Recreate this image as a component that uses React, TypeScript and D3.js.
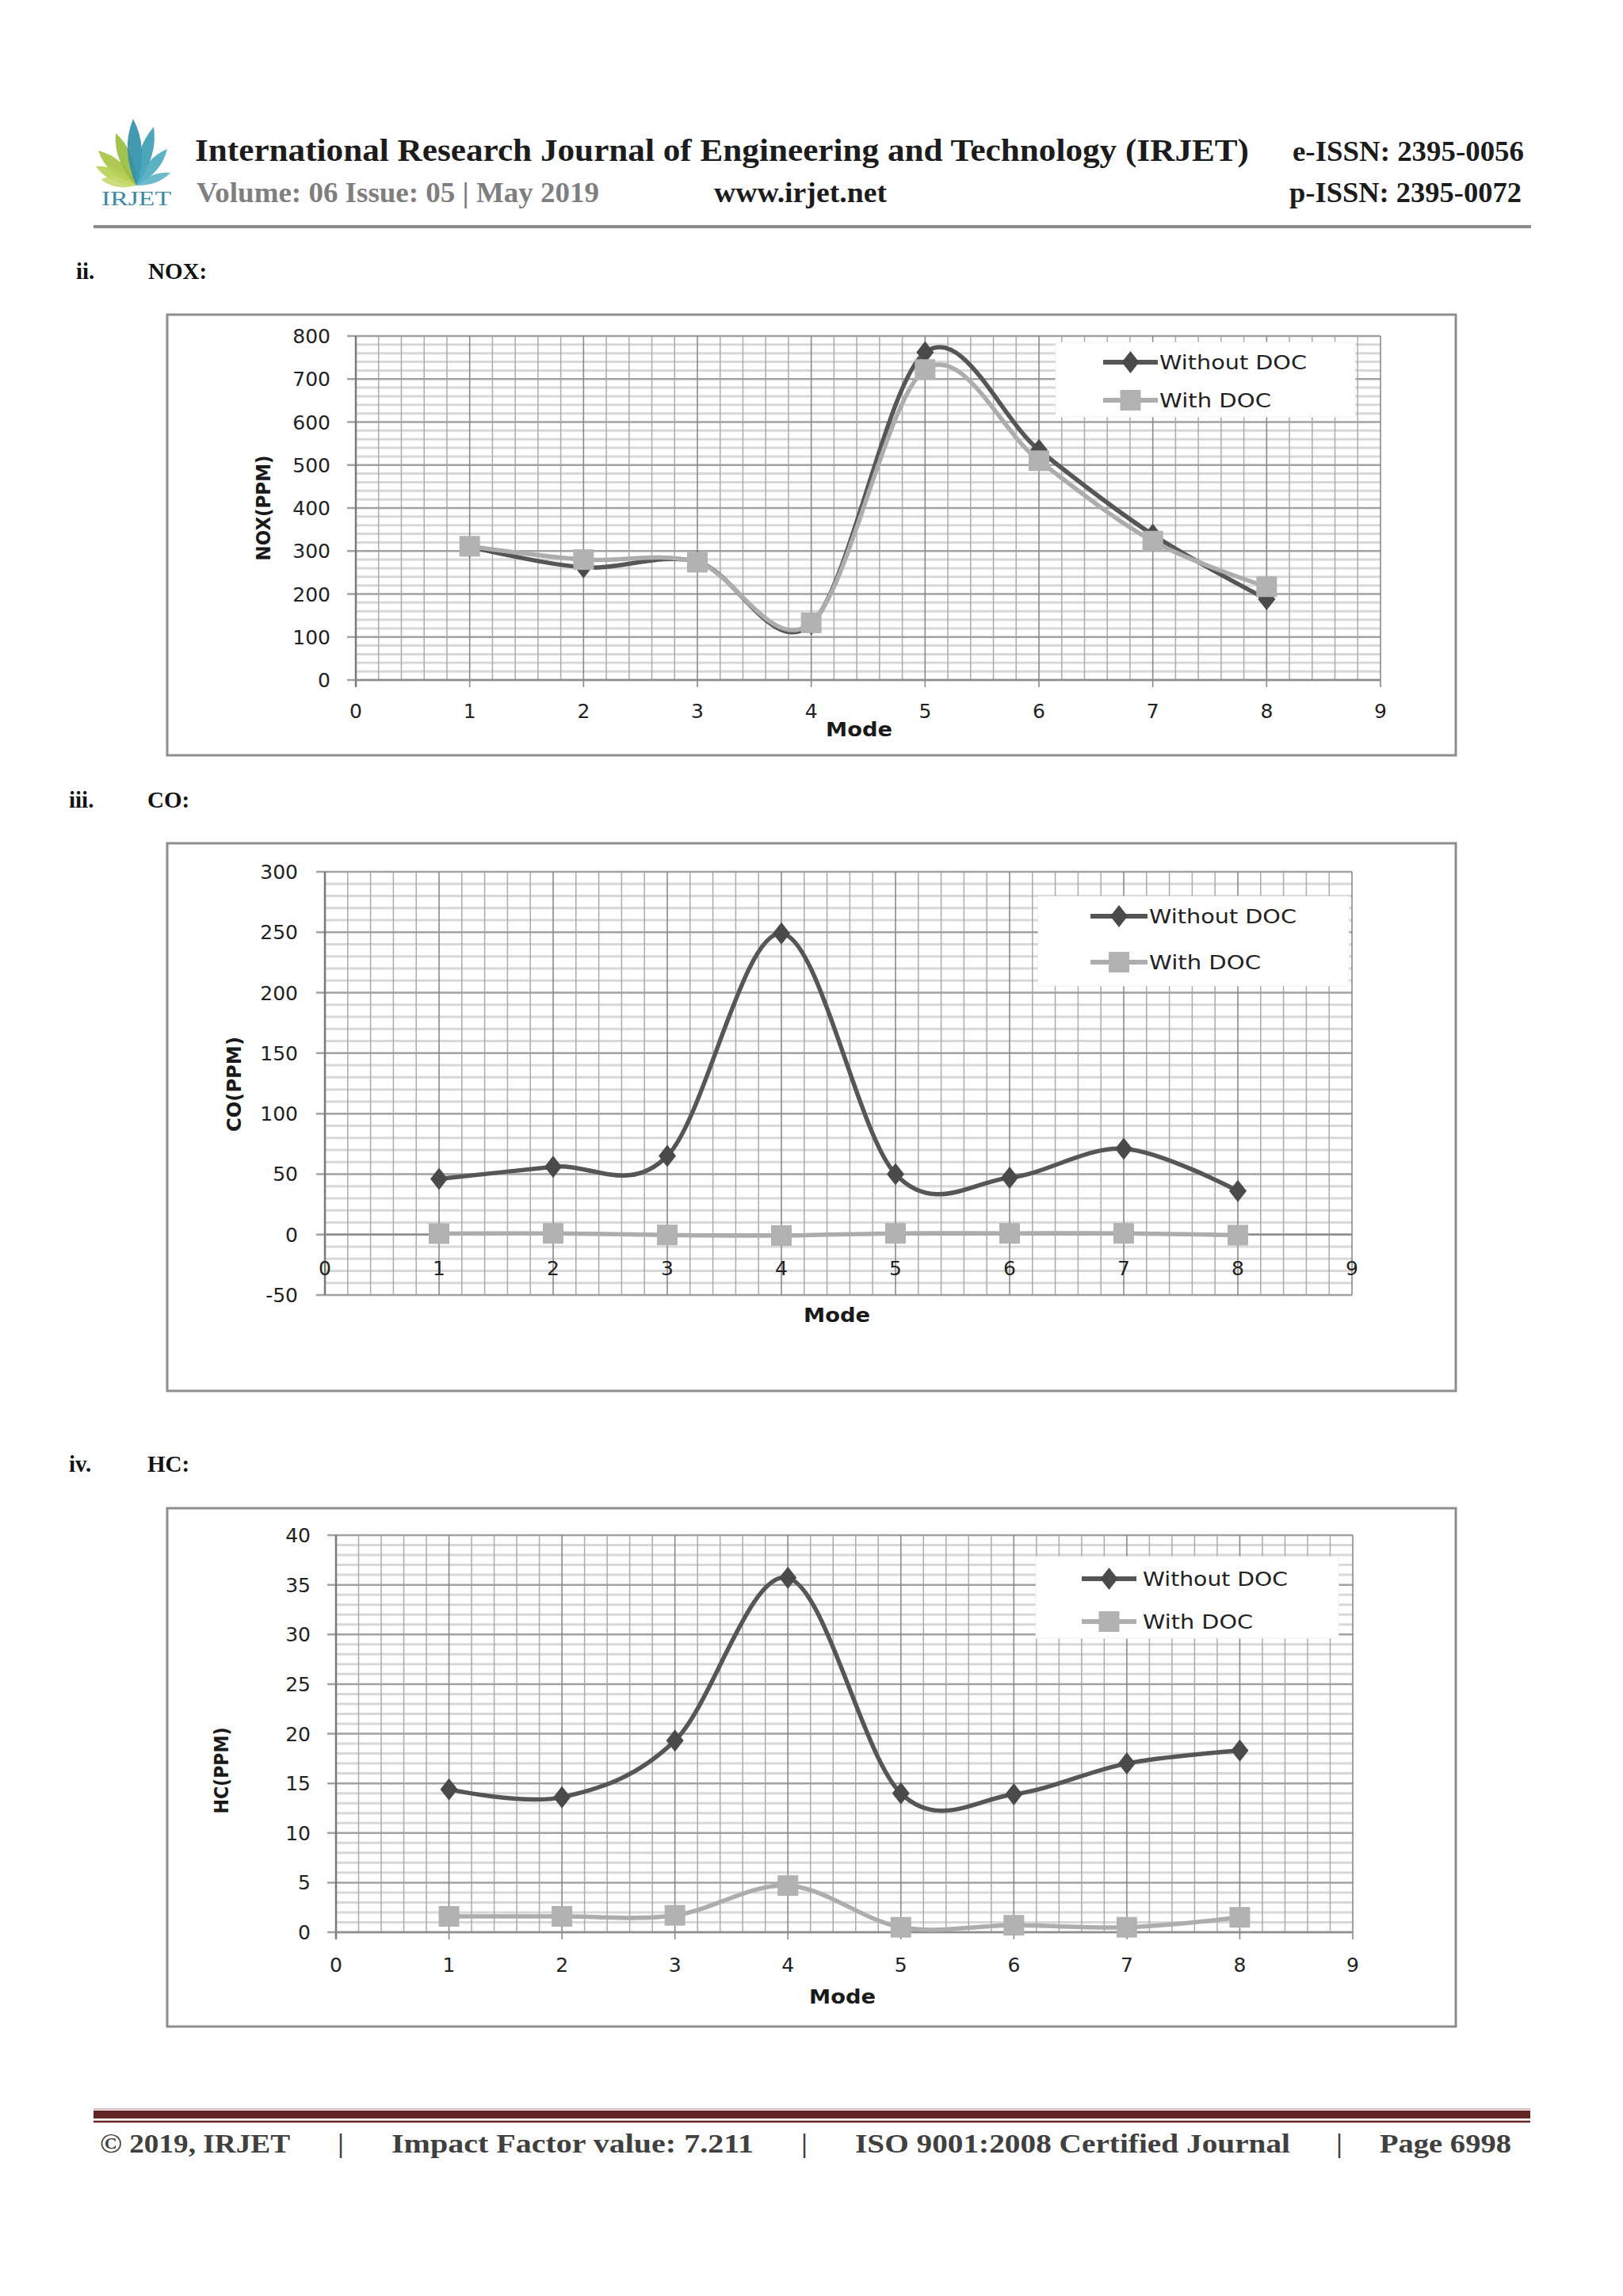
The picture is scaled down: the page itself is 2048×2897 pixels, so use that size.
import { useEffect, useRef } from 'react'
import * as d3 from 'd3'

// Mode numbers (x values) and axis ticks
const MODES = [1, 2, 3, 4, 5, 6, 7, 8]
const X_TICKS = [0, 1, 2, 3, 4, 5, 6, 7, 8, 9]
const SERIES_NAMES = ['Without DOC', 'With DOC']

// NOX (PPM)
const NOX_WITHOUT = [310, 262, 275, 130, 762, 535, 338, 188]
const NOX_WITH = [311, 280, 274, 133, 722, 510, 323, 217]
const NOX_Y_TICKS = [0, 100, 200, 300, 400, 500, 600, 700, 800]

// CO (PPM)
const CO_WITHOUT = [46, 56, 65, 249, 50, 47, 71, 36]
const CO_WITH = [0.8, 1, -0.3, -0.8, 1, 1, 1, -0.5]
const CO_Y_TICKS = [-50, 0, 50, 100, 150, 200, 250, 300]

// HC (PPM)
const HC_WITHOUT = [14.4, 13.6, 19.3, 35.7, 14.0, 13.9, 17.0, 18.3]
const HC_WITH = [1.6, 1.6, 1.7, 4.7, 0.5, 0.7, 0.5, 1.5]
const HC_Y_TICKS = [0, 5, 10, 15, 20, 25, 30, 35, 40]

const DARK = '#565656'
const LIGHT = '#adadad'
const SANS = '"DejaVu Sans", Verdana, sans-serif'
const SERIF = '"Liberation Serif", "DejaVu Serif", serif'

type ChartCfg = {
  yTitle: string
  yTitleLen: number
  without: number[]
  withDoc: number[]
  yTicks: number[]
  yMinor: number
  frame: { x: number; y: number; w: number; h: number }
  plot: { left: number; right: number; top: number; bottom: number }
  tickLabelRight: number
  xLabelOffset: number
  yTitleX: number
  yTitleY: number
  modeX: number
  modeY: number
  legend: { x: number; y: number; w: number; h: number; rows: number[]; x1: number; x2: number; tx: number; lens: number[] }
}

const CHARTS: ChartCfg[] = [
  {
    yTitle: 'NOX(PPM)', yTitleLen: 133,
    without: NOX_WITHOUT, withDoc: NOX_WITH, yTicks: NOX_Y_TICKS, yMinor: 20,
    frame: { x: 211, y: 397, w: 1626, h: 556 },
    plot: { left: 449, right: 1742, top: 424, bottom: 858 },
    tickLabelRight: 417, xLabelOffset: 39,
    yTitleX: 332, yTitleY: 641, modeX: 1084, modeY: 920,
    legend: { x: 1332, y: 432, w: 378, h: 94, rows: [457, 505], x1: 1392, x2: 1461, tx: 1463, lens: [186, 141] },
  },
  {
    yTitle: 'CO(PPM)', yTitleLen: 120,
    without: CO_WITHOUT, withDoc: CO_WITH, yTicks: CO_Y_TICKS, yMinor: 10,
    frame: { x: 211, y: 1064, w: 1626, h: 691 },
    plot: { left: 410, right: 1706, top: 1100, bottom: 1634 },
    tickLabelRight: 376, xLabelOffset: 42,
    yTitleX: 295, yTitleY: 1368, modeX: 1056, modeY: 1659,
    legend: { x: 1310, y: 1131, w: 392, h: 113, rows: [1156, 1214], x1: 1376, x2: 1448, tx: 1450, lens: [186, 141] },
  },
  {
    yTitle: 'HC(PPM)', yTitleLen: 109,
    without: HC_WITHOUT, withDoc: HC_WITH, yTicks: HC_Y_TICKS, yMinor: 1,
    frame: { x: 211, y: 1903, w: 1626, h: 654 },
    plot: { left: 424, right: 1707, top: 1937, bottom: 2438 },
    tickLabelRight: 392, xLabelOffset: 41,
    yTitleX: 279, yTitleY: 2234, modeX: 1063, modeY: 2519,
    legend: { x: 1307, y: 1964, w: 382, h: 103, rows: [1992, 2046], x1: 1365, x2: 1434, tx: 1442, lens: [183, 139] },
  },
]

type Sel = d3.Selection<SVGGElement, unknown, null, undefined>

const diamond = (g: Sel, cx: number, cy: number) =>
  g.append('path')
    .attr('d', `M${cx},${cy - 14}L${cx + 11},${cy}L${cx},${cy + 14}L${cx - 11},${cy}Z`)
    .attr('fill', '#4a4a4a')

const square = (g: Sel, cx: number, cy: number) =>
  g.append('rect')
    .attr('x', cx - 13).attr('y', cy - 13)
    .attr('width', 26).attr('height', 26)
    .attr('fill', '#b2b2b2')

function drawChart(root: Sel, c: ChartCfg) {
  const g = root.append('g')
  g.append('rect')
    .attr('x', c.frame.x).attr('y', c.frame.y)
    .attr('width', c.frame.w).attr('height', c.frame.h)
    .attr('fill', '#fff').attr('stroke', '#8e8e8e').attr('stroke-width', 3)

  const [yMin, yMax] = d3.extent(c.yTicks) as [number, number]
  const x = d3.scaleLinear().domain([0, 9]).range([c.plot.left, c.plot.right])
  const y = d3.scaleLinear().domain([yMin, yMax]).range([c.plot.bottom, c.plot.top])

  // minor horizontal gridlines
  const hMinor = d3.range(yMin, yMax + 1e-9, c.yMinor)
    .filter(v => !c.yTicks.some(t => Math.abs(t - v) < 1e-6))
  g.selectAll('.hminor').data(hMinor).join('line')
    .attr('x1', x(0)).attr('x2', x(9))
    .attr('y1', d => y(d)).attr('y2', d => y(d))
    .attr('stroke', '#d8d8d8').attr('stroke-width', 3)

  // minor vertical gridlines
  const vMinor = d3.range(0, 9.0001, 0.2).filter(v => Math.abs(v - Math.round(v)) > 1e-6)
  g.selectAll('.vminor').data(vMinor).join('line')
    .attr('x1', d => x(d)).attr('x2', d => x(d))
    .attr('y1', y(yMax)).attr('y2', y(yMin))
    .attr('stroke', '#ababab').attr('stroke-width', 1.5)

  // major horizontal gridlines (with y tick marks)
  g.selectAll('.hmajor').data(c.yTicks).join('line')
    .attr('x1', x(0) - 11).attr('x2', x(9))
    .attr('y1', d => y(d)).attr('y2', d => y(d))
    .attr('stroke', '#a2a2a2').attr('stroke-width', 2.5)

  // major vertical gridlines
  const axisBottom = yMin === 0
  g.selectAll('.vmajor').data(X_TICKS.slice(1)).join('line')
    .attr('x1', d => x(d)).attr('x2', d => x(d))
    .attr('y1', y(yMax)).attr('y2', y(yMin) + (axisBottom ? 9 : 0))
    .attr('stroke', '#8a8a8a').attr('stroke-width', 1.6)

  // value axis line
  g.append('line')
    .attr('x1', x(0)).attr('x2', x(0))
    .attr('y1', y(yMax)).attr('y2', y(yMin) + (axisBottom ? 9 : 0))
    .attr('stroke', '#7a7a7a').attr('stroke-width', 2.5)
  g.append('line')
    .attr('x1', x(0)).attr('x2', x(9))
    .attr('y1', y(0)).attr('y2', y(0))
    .attr('stroke', '#8e8e8e').attr('stroke-width', 2.5)

  // y tick labels
  g.selectAll('.ylab').data(c.yTicks).join('text')
    .attr('x', c.tickLabelRight).attr('y', d => y(d))
    .attr('dy', '0.36em')
    .attr('text-anchor', 'end')
    .attr('font-family', SANS).attr('font-size', 25).attr('fill', '#222')
    .text(d => String(d))

  // x tick labels
  g.selectAll('.xlab').data(X_TICKS).join('text')
    .attr('x', d => x(d)).attr('y', y(0) + c.xLabelOffset)
    .attr('dy', '0.36em')
    .attr('text-anchor', 'middle')
    .attr('font-family', SANS).attr('font-size', 25).attr('fill', '#222')
    .text(d => String(d))

  // axis titles
  g.append('text')
    .attr('transform', `translate(${c.yTitleX},${c.yTitleY}) rotate(-90)`)
    .attr('dy', '0.36em').attr('text-anchor', 'middle')
    .attr('font-family', SANS).attr('font-weight', 'bold').attr('font-size', 24)
    .attr('textLength', c.yTitleLen).attr('lengthAdjust', 'spacingAndGlyphs')
    .attr('fill', '#1a1a1a')
    .text(c.yTitle)
  g.append('text')
    .attr('x', c.modeX).attr('y', c.modeY)
    .attr('dy', '0.36em').attr('text-anchor', 'middle')
    .attr('font-family', SANS).attr('font-weight', 'bold').attr('font-size', 25)
    .attr('textLength', 84).attr('lengthAdjust', 'spacingAndGlyphs')
    .attr('fill', '#1a1a1a')
    .text('Mode')

  // smoothed series lines (Excel-like smoothing)
  const line = d3.line<number>()
    .x((_, i) => x(MODES[i]))
    .y(d => y(d))
    .curve(d3.curveCardinal.tension(0))

  g.append('path').attr('d', line(c.without) || '')
    .attr('fill', 'none').attr('stroke', DARK).attr('stroke-width', 5.5)
    .attr('stroke-linejoin', 'round')
  c.without.forEach((v, i) => diamond(g, x(MODES[i]), y(v)))

  g.append('path').attr('d', line(c.withDoc) || '')
    .attr('fill', 'none').attr('stroke', LIGHT).attr('stroke-width', 5.5)
    .attr('stroke-linejoin', 'round')
  c.withDoc.forEach((v, i) => square(g, x(MODES[i]), y(v)))

  // legend
  const L = c.legend
  g.append('rect')
    .attr('x', L.x).attr('y', L.y).attr('width', L.w).attr('height', L.h)
    .attr('fill', '#fff').attr('stroke', '#f0f0f0')
  SERIES_NAMES.forEach((name, i) => {
    const ry = L.rows[i]
    g.append('line')
      .attr('x1', L.x1).attr('x2', L.x2).attr('y1', ry).attr('y2', ry)
      .attr('stroke', i === 0 ? DARK : LIGHT).attr('stroke-width', 6)
    if (i === 0) diamond(g, (L.x1 + L.x2) / 2, ry)
    else square(g, (L.x1 + L.x2) / 2, ry)
    g.append('text')
      .attr('x', L.tx).attr('y', ry).attr('dy', '0.36em')
      .attr('font-family', SANS).attr('font-size', 24).attr('fill', '#222')
      .attr('textLength', L.lens[i]).attr('lengthAdjust', 'spacingAndGlyphs')
      .text(name)
  })
}

// logo leaves: tip point, half width, colour
const LEAVES: [number, number, number, string][] = [
  [124, 190, 8, '#a9c23f'],
  [121, 210, 7, '#b9cf55'],
  [127, 226, 6, '#c6d76e'],
  [146, 168, 8, '#98bd3e'],
  [168, 150, 9, '#2f8ea6'],
  [194, 160, 8, '#3a9bb1'],
  [211, 188, 7, '#4aa8bc'],
  [215, 218, 5, '#5cb3c4'],
]

const App = () => {
  const svgRef = useRef<SVGSVGElement>(null)

  useEffect(() => {
    if (!svgRef.current) return
    const root = d3.select(svgRef.current).select<SVGGElement>('g.charts')
    root.selectAll('*').remove()
    CHARTS.forEach(c => drawChart(root as unknown as Sel, c))
  }, [])

  const bx = 172
  const by = 234
  const leafPath = (tx: number, ty: number, w: number) => {
    const dx = tx - bx
    const dy = ty - by
    const len = Math.hypot(dx, dy)
    const nx = -dy / len
    const ny = dx / len
    const mx = bx + dx * 0.55
    const my = by + dy * 0.55
    return `M${bx},${by}Q${mx + nx * w * 2},${my + ny * w * 2} ${tx},${ty}Q${mx - nx * w * 2},${my - ny * w * 2} ${bx},${by}Z`
  }

  return (
    <svg
      ref={svgRef}
      width={2048}
      height={2897}
      style={{ position: 'absolute', left: 0, top: 0, background: '#fff' }}
    >
      <rect x={0} y={0} width={2048} height={2897} fill="#fff" />
      {/* journal header */}
      <g>
        {LEAVES.map(([tx, ty, w, col], i) => (
          <path key={i} d={leafPath(tx, ty, w)} fill={col} opacity={0.9} />
        ))}
        <text x={128} y={259} fontFamily={SERIF} fontSize={26} fill="#3c8aa3"
          textLength={88} lengthAdjust="spacingAndGlyphs">IRJET</text>
        <text x={246} y={203} fontFamily={SERIF} fontWeight="bold" fontSize={40} fill="#1c1c1c"
          textLength={1330} lengthAdjust="spacingAndGlyphs">
          International Research Journal of Engineering and Technology (IRJET)
        </text>
        <text x={1631} y={203} fontFamily={SERIF} fontWeight="bold" fontSize={35} fill="#1c1c1c"
          textLength={292} lengthAdjust="spacingAndGlyphs">e-ISSN: 2395-0056</text>
        <text x={248} y={255} fontFamily={SERIF} fontWeight="bold" fontSize={35} fill="#7f7f7f"
          textLength={508} lengthAdjust="spacingAndGlyphs">Volume: 06 Issue: 05 | May 2019</text>
        <text x={901} y={255} fontFamily={SERIF} fontWeight="bold" fontSize={35} fill="#1c1c1c"
          textLength={218} lengthAdjust="spacingAndGlyphs">www.irjet.net</text>
        <text x={1627} y={255} fontFamily={SERIF} fontWeight="bold" fontSize={35} fill="#1c1c1c"
          textLength={293} lengthAdjust="spacingAndGlyphs">p-ISSN: 2395-0072</text>
        <line x1={118} x2={1932} y1={286} y2={286} stroke="#8a8a8a" strokeWidth={4} />
      </g>

      {/* section headings */}
      <g fontFamily={SERIF} fontWeight="bold" fontSize={29} fill="#111">
        <text x={96} y={352}>ii.</text>
        <text x={187} y={352}>NOX:</text>
        <text x={87} y={1019}>iii.</text>
        <text x={186} y={1019}>CO:</text>
        <text x={87} y={1857}>iv.</text>
        <text x={186} y={1857}>HC:</text>
      </g>

      <g className="charts" />

      {/* footer */}
      <g>
        <line x1={118} x2={1931} y1={2661} y2={2661} stroke="#c9a9a9" strokeWidth={1.5} />
        <rect x={118} y={2663} width={1813} height={10} fill="#632523" />
        <line x1={118} x2={1931} y1={2677} y2={2677} stroke="#632523" strokeWidth={2.5} />
        <g fontFamily={SERIF} fontWeight="bold" fontSize={34} fill="#404040">
          <text x={126} y={2716} textLength={240} lengthAdjust="spacingAndGlyphs">© 2019, IRJET</text>
          <text x={430} y={2716} textAnchor="middle">|</text>
          <text x={494} y={2716} textLength={457} lengthAdjust="spacingAndGlyphs">Impact Factor value: 7.211</text>
          <text x={1015} y={2716} textAnchor="middle">|</text>
          <text x={1079} y={2716} textLength={549} lengthAdjust="spacingAndGlyphs">ISO 9001:2008 Certified Journal</text>
          <text x={1690} y={2716} textAnchor="middle">|</text>
          <text x={1741} y={2716} textLength={166} lengthAdjust="spacingAndGlyphs">Page 6998</text>
        </g>
      </g>
    </svg>
  )
}

export default App
